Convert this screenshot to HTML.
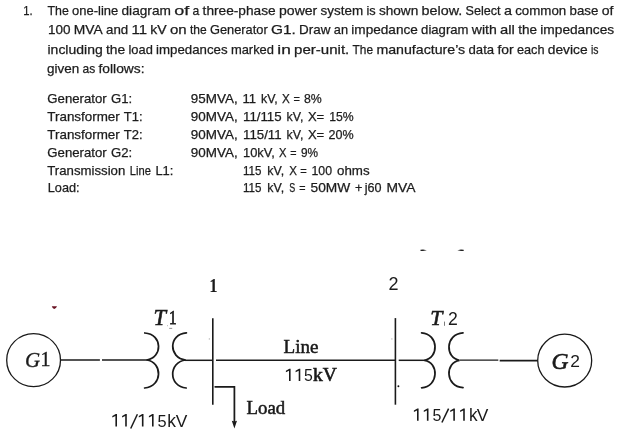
<!DOCTYPE html>
<html><head><meta charset="utf-8"><title>Problem 1</title>
<style>
html,body{margin:0;padding:0;background:#fff;}
body{width:618px;height:433px;overflow:hidden;font-family:"Liberation Sans",sans-serif;}
svg{display:block;will-change:transform;}
</style></head><body>
<svg width="618" height="433" viewBox="0 0 618 433">
<rect width="618" height="433" fill="#ffffff"/>
<text x="23.2" y="14.6" font-family='"Liberation Sans", sans-serif' font-size="12.9" font-weight="normal" font-style="normal" fill="#1c1c1c" stroke="#1c1c1c" stroke-width="0.25" textLength="9.4" lengthAdjust="spacingAndGlyphs">1.</text>
<text x="47.5" y="14.6" font-family='"Liberation Sans", sans-serif' font-size="12.9" font-weight="normal" font-style="normal" fill="#1c1c1c" stroke="#1c1c1c" stroke-width="0.25" textLength="21.3" lengthAdjust="spacingAndGlyphs">The</text>
<text x="72.1" y="14.6" font-family='"Liberation Sans", sans-serif' font-size="12.9" font-weight="normal" font-style="normal" fill="#1c1c1c" stroke="#1c1c1c" stroke-width="0.25" textLength="46.1" lengthAdjust="spacingAndGlyphs">one-line</text>
<text x="121.5" y="14.6" font-family='"Liberation Sans", sans-serif' font-size="12.9" font-weight="normal" font-style="normal" fill="#1c1c1c" stroke="#1c1c1c" stroke-width="0.25" textLength="49.4" lengthAdjust="spacingAndGlyphs">diagram</text>
<text x="174.2" y="14.6" font-family='"Liberation Sans", sans-serif' font-size="12.9" font-weight="normal" font-style="normal" fill="#1c1c1c" stroke="#1c1c1c" stroke-width="0.25" textLength="15.0" lengthAdjust="spacingAndGlyphs">of</text>
<text x="192.5" y="14.6" font-family='"Liberation Sans", sans-serif' font-size="12.9" font-weight="normal" font-style="normal" fill="#1c1c1c" stroke="#1c1c1c" stroke-width="0.25" textLength="6.8" lengthAdjust="spacingAndGlyphs">a</text>
<text x="202.6" y="14.6" font-family='"Liberation Sans", sans-serif' font-size="12.9" font-weight="normal" font-style="normal" fill="#1c1c1c" stroke="#1c1c1c" stroke-width="0.25" textLength="73.1" lengthAdjust="spacingAndGlyphs">three-phase</text>
<text x="279" y="14.6" font-family='"Liberation Sans", sans-serif' font-size="12.9" font-weight="normal" font-style="normal" fill="#1c1c1c" stroke="#1c1c1c" stroke-width="0.25" textLength="38.3" lengthAdjust="spacingAndGlyphs">power</text>
<text x="320.6" y="14.6" font-family='"Liberation Sans", sans-serif' font-size="12.9" font-weight="normal" font-style="normal" fill="#1c1c1c" stroke="#1c1c1c" stroke-width="0.25" textLength="42.5" lengthAdjust="spacingAndGlyphs">system</text>
<text x="366.4" y="14.6" font-family='"Liberation Sans", sans-serif' font-size="12.9" font-weight="normal" font-style="normal" fill="#1c1c1c" stroke="#1c1c1c" stroke-width="0.25" textLength="9.2" lengthAdjust="spacingAndGlyphs">is</text>
<text x="378.9" y="14.6" font-family='"Liberation Sans", sans-serif' font-size="12.9" font-weight="normal" font-style="normal" fill="#1c1c1c" stroke="#1c1c1c" stroke-width="0.25" textLength="39.4" lengthAdjust="spacingAndGlyphs">shown</text>
<text x="421.6" y="14.6" font-family='"Liberation Sans", sans-serif' font-size="12.9" font-weight="normal" font-style="normal" fill="#1c1c1c" stroke="#1c1c1c" stroke-width="0.25" textLength="40.6" lengthAdjust="spacingAndGlyphs">below.</text>
<text x="465.5" y="14.6" font-family='"Liberation Sans", sans-serif' font-size="12.9" font-weight="normal" font-style="normal" fill="#1c1c1c" stroke="#1c1c1c" stroke-width="0.25" textLength="35.1" lengthAdjust="spacingAndGlyphs">Select</text>
<text x="503.9" y="14.6" font-family='"Liberation Sans", sans-serif' font-size="12.9" font-weight="normal" font-style="normal" fill="#1c1c1c" stroke="#1c1c1c" stroke-width="0.25" textLength="8.0" lengthAdjust="spacingAndGlyphs">a</text>
<text x="515.2" y="14.6" font-family='"Liberation Sans", sans-serif' font-size="12.9" font-weight="normal" font-style="normal" fill="#1c1c1c" stroke="#1c1c1c" stroke-width="0.25" textLength="51.1" lengthAdjust="spacingAndGlyphs">common</text>
<text x="569.6" y="14.6" font-family='"Liberation Sans", sans-serif' font-size="12.9" font-weight="normal" font-style="normal" fill="#1c1c1c" stroke="#1c1c1c" stroke-width="0.25" textLength="28.8" lengthAdjust="spacingAndGlyphs">base</text>
<text x="601.7" y="14.6" font-family='"Liberation Sans", sans-serif' font-size="12.9" font-weight="normal" font-style="normal" fill="#1c1c1c" stroke="#1c1c1c" stroke-width="0.25" textLength="11.7" lengthAdjust="spacingAndGlyphs">of</text>
<text x="48" y="34.2" font-family='"Liberation Sans", sans-serif' font-size="12.9" font-weight="normal" font-style="normal" fill="#1c1c1c" stroke="#1c1c1c" stroke-width="0.25" textLength="22.5" lengthAdjust="spacingAndGlyphs">100</text>
<text x="73.8" y="34.2" font-family='"Liberation Sans", sans-serif' font-size="12.9" font-weight="normal" font-style="normal" fill="#1c1c1c" stroke="#1c1c1c" stroke-width="0.25" textLength="28.9" lengthAdjust="spacingAndGlyphs">MVA</text>
<text x="106" y="34.2" font-family='"Liberation Sans", sans-serif' font-size="12.9" font-weight="normal" font-style="normal" fill="#1c1c1c" stroke="#1c1c1c" stroke-width="0.25" textLength="22.2" lengthAdjust="spacingAndGlyphs">and</text>
<text x="131.5" y="34.2" font-family='"Liberation Sans", sans-serif' font-size="12.9" font-weight="normal" font-style="normal" fill="#1c1c1c" stroke="#1c1c1c" stroke-width="0.25" textLength="15.5" lengthAdjust="spacingAndGlyphs">11</text>
<text x="150.3" y="34.2" font-family='"Liberation Sans", sans-serif' font-size="12.9" font-weight="normal" font-style="normal" fill="#1c1c1c" stroke="#1c1c1c" stroke-width="0.25" textLength="16.4" lengthAdjust="spacingAndGlyphs">kV</text>
<text x="170" y="34.2" font-family='"Liberation Sans", sans-serif' font-size="12.9" font-weight="normal" font-style="normal" fill="#1c1c1c" stroke="#1c1c1c" stroke-width="0.25" textLength="16.7" lengthAdjust="spacingAndGlyphs">on</text>
<text x="190" y="34.2" font-family='"Liberation Sans", sans-serif' font-size="12.9" font-weight="normal" font-style="normal" fill="#1c1c1c" stroke="#1c1c1c" stroke-width="0.25" textLength="16.7" lengthAdjust="spacingAndGlyphs">the</text>
<text x="210" y="34.2" font-family='"Liberation Sans", sans-serif' font-size="12.9" font-weight="normal" font-style="normal" fill="#1c1c1c" stroke="#1c1c1c" stroke-width="0.25" textLength="57.7" lengthAdjust="spacingAndGlyphs">Generator</text>
<text x="271" y="34.2" font-family='"Liberation Sans", sans-serif' font-size="12.9" font-weight="normal" font-style="normal" fill="#1c1c1c" stroke="#1c1c1c" stroke-width="0.25" textLength="24.8" lengthAdjust="spacingAndGlyphs">G1.</text>
<text x="299.1" y="34.2" font-family='"Liberation Sans", sans-serif' font-size="12.9" font-weight="normal" font-style="normal" fill="#1c1c1c" stroke="#1c1c1c" stroke-width="0.25" textLength="31.4" lengthAdjust="spacingAndGlyphs">Draw</text>
<text x="333.8" y="34.2" font-family='"Liberation Sans", sans-serif' font-size="12.9" font-weight="normal" font-style="normal" fill="#1c1c1c" stroke="#1c1c1c" stroke-width="0.25" textLength="14.2" lengthAdjust="spacingAndGlyphs">an</text>
<text x="351.3" y="34.2" font-family='"Liberation Sans", sans-serif' font-size="12.9" font-weight="normal" font-style="normal" fill="#1c1c1c" stroke="#1c1c1c" stroke-width="0.25" textLength="66.5" lengthAdjust="spacingAndGlyphs">impedance</text>
<text x="421.1" y="34.2" font-family='"Liberation Sans", sans-serif' font-size="12.9" font-weight="normal" font-style="normal" fill="#1c1c1c" stroke="#1c1c1c" stroke-width="0.25" textLength="47.4" lengthAdjust="spacingAndGlyphs">diagram</text>
<text x="471.8" y="34.2" font-family='"Liberation Sans", sans-serif' font-size="12.9" font-weight="normal" font-style="normal" fill="#1c1c1c" stroke="#1c1c1c" stroke-width="0.25" textLength="25.0" lengthAdjust="spacingAndGlyphs">with</text>
<text x="500.1" y="34.2" font-family='"Liberation Sans", sans-serif' font-size="12.9" font-weight="normal" font-style="normal" fill="#1c1c1c" stroke="#1c1c1c" stroke-width="0.25" textLength="14.8" lengthAdjust="spacingAndGlyphs">all</text>
<text x="518.2" y="34.2" font-family='"Liberation Sans", sans-serif' font-size="12.9" font-weight="normal" font-style="normal" fill="#1c1c1c" stroke="#1c1c1c" stroke-width="0.25" textLength="18.8" lengthAdjust="spacingAndGlyphs">the</text>
<text x="540.3" y="34.2" font-family='"Liberation Sans", sans-serif' font-size="12.9" font-weight="normal" font-style="normal" fill="#1c1c1c" stroke="#1c1c1c" stroke-width="0.25" textLength="73.9" lengthAdjust="spacingAndGlyphs">impedances</text>
<text x="47.5" y="53.6" font-family='"Liberation Sans", sans-serif' font-size="12.9" font-weight="normal" font-style="normal" fill="#1c1c1c" stroke="#1c1c1c" stroke-width="0.25" textLength="55.2" lengthAdjust="spacingAndGlyphs">including</text>
<text x="106" y="53.6" font-family='"Liberation Sans", sans-serif' font-size="12.9" font-weight="normal" font-style="normal" fill="#1c1c1c" stroke="#1c1c1c" stroke-width="0.25" textLength="19.2" lengthAdjust="spacingAndGlyphs">the</text>
<text x="128.5" y="53.6" font-family='"Liberation Sans", sans-serif' font-size="12.9" font-weight="normal" font-style="normal" fill="#1c1c1c" stroke="#1c1c1c" stroke-width="0.25" textLength="24.3" lengthAdjust="spacingAndGlyphs">load</text>
<text x="156.1" y="53.6" font-family='"Liberation Sans", sans-serif' font-size="12.9" font-weight="normal" font-style="normal" fill="#1c1c1c" stroke="#1c1c1c" stroke-width="0.25" textLength="71.5" lengthAdjust="spacingAndGlyphs">impedances</text>
<text x="230.9" y="53.6" font-family='"Liberation Sans", sans-serif' font-size="12.9" font-weight="normal" font-style="normal" fill="#1c1c1c" stroke="#1c1c1c" stroke-width="0.25" textLength="43.1" lengthAdjust="spacingAndGlyphs">marked</text>
<text x="277.3" y="53.6" font-family='"Liberation Sans", sans-serif' font-size="12.9" font-weight="normal" font-style="normal" fill="#1c1c1c" stroke="#1c1c1c" stroke-width="0.25" textLength="13.5" lengthAdjust="spacingAndGlyphs">in</text>
<text x="294.1" y="53.6" font-family='"Liberation Sans", sans-serif' font-size="12.9" font-weight="normal" font-style="normal" fill="#1c1c1c" stroke="#1c1c1c" stroke-width="0.25" textLength="55.2" lengthAdjust="spacingAndGlyphs">per-unit.</text>
<text x="352.6" y="53.6" font-family='"Liberation Sans", sans-serif' font-size="12.9" font-weight="normal" font-style="normal" fill="#1c1c1c" stroke="#1c1c1c" stroke-width="0.25" textLength="20.5" lengthAdjust="spacingAndGlyphs">The</text>
<text x="376.4" y="53.6" font-family='"Liberation Sans", sans-serif' font-size="12.9" font-weight="normal" font-style="normal" fill="#1c1c1c" stroke="#1c1c1c" stroke-width="0.25" textLength="88.8" lengthAdjust="spacingAndGlyphs">manufacture’s</text>
<text x="468.5" y="53.6" font-family='"Liberation Sans", sans-serif' font-size="12.9" font-weight="normal" font-style="normal" fill="#1c1c1c" stroke="#1c1c1c" stroke-width="0.25" textLength="25.6" lengthAdjust="spacingAndGlyphs">data</text>
<text x="497.4" y="53.6" font-family='"Liberation Sans", sans-serif' font-size="12.9" font-weight="normal" font-style="normal" fill="#1c1c1c" stroke="#1c1c1c" stroke-width="0.25" textLength="16.2" lengthAdjust="spacingAndGlyphs">for</text>
<text x="516.9" y="53.6" font-family='"Liberation Sans", sans-serif' font-size="12.9" font-weight="normal" font-style="normal" fill="#1c1c1c" stroke="#1c1c1c" stroke-width="0.25" textLength="27.6" lengthAdjust="spacingAndGlyphs">each</text>
<text x="547.8" y="53.6" font-family='"Liberation Sans", sans-serif' font-size="12.9" font-weight="normal" font-style="normal" fill="#1c1c1c" stroke="#1c1c1c" stroke-width="0.25" textLength="39.8" lengthAdjust="spacingAndGlyphs">device</text>
<text x="590.9" y="53.6" font-family='"Liberation Sans", sans-serif' font-size="12.9" font-weight="normal" font-style="normal" fill="#1c1c1c" stroke="#1c1c1c" stroke-width="0.25" textLength="7.5" lengthAdjust="spacingAndGlyphs">is</text>
<text x="47.0" y="72.8" font-family='"Liberation Sans", sans-serif' font-size="12.9" font-weight="normal" font-style="normal" fill="#1c1c1c" stroke="#1c1c1c" stroke-width="0.25" textLength="32.2" lengthAdjust="spacingAndGlyphs">given</text>
<text x="82.5" y="72.8" font-family='"Liberation Sans", sans-serif' font-size="12.9" font-weight="normal" font-style="normal" fill="#1c1c1c" stroke="#1c1c1c" stroke-width="0.25" textLength="12.7" lengthAdjust="spacingAndGlyphs">as</text>
<text x="98.5" y="72.8" font-family='"Liberation Sans", sans-serif' font-size="12.9" font-weight="normal" font-style="normal" fill="#1c1c1c" stroke="#1c1c1c" stroke-width="0.25" textLength="46.0" lengthAdjust="spacingAndGlyphs">follows:</text>
<text x="47.3" y="102.5" font-family='"Liberation Sans", sans-serif' font-size="12.7" font-weight="normal" font-style="normal" fill="#1c1c1c" stroke="#1c1c1c" stroke-width="0.25" textLength="59.4" lengthAdjust="spacingAndGlyphs">Generator</text>
<text x="111" y="102.5" font-family='"Liberation Sans", sans-serif' font-size="12.7" font-weight="normal" font-style="normal" fill="#1c1c1c" stroke="#1c1c1c" stroke-width="0.25" textLength="21.2" lengthAdjust="spacingAndGlyphs">G1:</text>
<text x="190.8" y="102.5" font-family='"Liberation Sans", sans-serif' font-size="12.7" font-weight="normal" font-style="normal" fill="#1c1c1c" stroke="#1c1c1c" stroke-width="0.25" textLength="46.9" lengthAdjust="spacingAndGlyphs">95MVA,</text>
<text x="242.4" y="102.5" font-family='"Liberation Sans", sans-serif' font-size="12.7" font-weight="normal" font-style="normal" fill="#1c1c1c" stroke="#1c1c1c" stroke-width="0.25" textLength="13.6" lengthAdjust="spacingAndGlyphs">11</text>
<text x="261" y="102.5" font-family='"Liberation Sans", sans-serif' font-size="12.7" font-weight="normal" font-style="normal" fill="#1c1c1c" stroke="#1c1c1c" stroke-width="0.25" textLength="16.8" lengthAdjust="spacingAndGlyphs">kV,</text>
<text x="282.0" y="102.5" font-family='"Liberation Sans", sans-serif' font-size="12.7" font-weight="normal" font-style="normal" fill="#1c1c1c" stroke="#1c1c1c" stroke-width="0.25" textLength="7.8" lengthAdjust="spacingAndGlyphs">X</text>
<text x="293.4" y="102.5" font-family='"Liberation Sans", sans-serif' font-size="12.7" font-weight="normal" font-style="normal" fill="#1c1c1c" stroke="#1c1c1c" stroke-width="0.25" textLength="6.4" lengthAdjust="spacingAndGlyphs">=</text>
<text x="304.0" y="102.5" font-family='"Liberation Sans", sans-serif' font-size="12.7" font-weight="normal" font-style="normal" fill="#1c1c1c" stroke="#1c1c1c" stroke-width="0.25" textLength="17.8" lengthAdjust="spacingAndGlyphs">8%</text>
<text x="47.3" y="120.6" font-family='"Liberation Sans", sans-serif' font-size="12.7" font-weight="normal" font-style="normal" fill="#1c1c1c" stroke="#1c1c1c" stroke-width="0.25" textLength="72.5" lengthAdjust="spacingAndGlyphs">Transformer</text>
<text x="123.8" y="120.6" font-family='"Liberation Sans", sans-serif' font-size="12.7" font-weight="normal" font-style="normal" fill="#1c1c1c" stroke="#1c1c1c" stroke-width="0.25" textLength="18.8" lengthAdjust="spacingAndGlyphs">T1:</text>
<text x="190.8" y="120.6" font-family='"Liberation Sans", sans-serif' font-size="12.7" font-weight="normal" font-style="normal" fill="#1c1c1c" stroke="#1c1c1c" stroke-width="0.25" textLength="46.9" lengthAdjust="spacingAndGlyphs">90MVA,</text>
<text x="243.0" y="120.6" font-family='"Liberation Sans", sans-serif' font-size="12.7" font-weight="normal" font-style="normal" fill="#1c1c1c" stroke="#1c1c1c" stroke-width="0.25" textLength="38.6" lengthAdjust="spacingAndGlyphs">11/115</text>
<text x="286.6" y="120.6" font-family='"Liberation Sans", sans-serif' font-size="12.7" font-weight="normal" font-style="normal" fill="#1c1c1c" stroke="#1c1c1c" stroke-width="0.25" textLength="16.8" lengthAdjust="spacingAndGlyphs">kV,</text>
<text x="307.9" y="120.6" font-family='"Liberation Sans", sans-serif' font-size="12.7" font-weight="normal" font-style="normal" fill="#1c1c1c" stroke="#1c1c1c" stroke-width="0.25" textLength="16.3" lengthAdjust="spacingAndGlyphs">X=</text>
<text x="329.2" y="120.6" font-family='"Liberation Sans", sans-serif' font-size="12.7" font-weight="normal" font-style="normal" fill="#1c1c1c" stroke="#1c1c1c" stroke-width="0.25" textLength="24.5" lengthAdjust="spacingAndGlyphs">15%</text>
<text x="47.3" y="138.5" font-family='"Liberation Sans", sans-serif' font-size="12.7" font-weight="normal" font-style="normal" fill="#1c1c1c" stroke="#1c1c1c" stroke-width="0.25" textLength="72.5" lengthAdjust="spacingAndGlyphs">Transformer</text>
<text x="123.8" y="138.5" font-family='"Liberation Sans", sans-serif' font-size="12.7" font-weight="normal" font-style="normal" fill="#1c1c1c" stroke="#1c1c1c" stroke-width="0.25" textLength="18.8" lengthAdjust="spacingAndGlyphs">T2:</text>
<text x="190.8" y="138.5" font-family='"Liberation Sans", sans-serif' font-size="12.7" font-weight="normal" font-style="normal" fill="#1c1c1c" stroke="#1c1c1c" stroke-width="0.25" textLength="46.9" lengthAdjust="spacingAndGlyphs">90MVA,</text>
<text x="243.0" y="138.5" font-family='"Liberation Sans", sans-serif' font-size="12.7" font-weight="normal" font-style="normal" fill="#1c1c1c" stroke="#1c1c1c" stroke-width="0.25" textLength="38.6" lengthAdjust="spacingAndGlyphs">115/11</text>
<text x="286.6" y="138.5" font-family='"Liberation Sans", sans-serif' font-size="12.7" font-weight="normal" font-style="normal" fill="#1c1c1c" stroke="#1c1c1c" stroke-width="0.25" textLength="16.8" lengthAdjust="spacingAndGlyphs">kV,</text>
<text x="307.9" y="138.5" font-family='"Liberation Sans", sans-serif' font-size="12.7" font-weight="normal" font-style="normal" fill="#1c1c1c" stroke="#1c1c1c" stroke-width="0.25" textLength="16.3" lengthAdjust="spacingAndGlyphs">X=</text>
<text x="328.6" y="138.5" font-family='"Liberation Sans", sans-serif' font-size="12.7" font-weight="normal" font-style="normal" fill="#1c1c1c" stroke="#1c1c1c" stroke-width="0.25" textLength="25.1" lengthAdjust="spacingAndGlyphs">20%</text>
<text x="47.3" y="156.5" font-family='"Liberation Sans", sans-serif' font-size="12.7" font-weight="normal" font-style="normal" fill="#1c1c1c" stroke="#1c1c1c" stroke-width="0.25" textLength="59.4" lengthAdjust="spacingAndGlyphs">Generator</text>
<text x="111" y="156.5" font-family='"Liberation Sans", sans-serif' font-size="12.7" font-weight="normal" font-style="normal" fill="#1c1c1c" stroke="#1c1c1c" stroke-width="0.25" textLength="21.2" lengthAdjust="spacingAndGlyphs">G2:</text>
<text x="190.8" y="156.5" font-family='"Liberation Sans", sans-serif' font-size="12.7" font-weight="normal" font-style="normal" fill="#1c1c1c" stroke="#1c1c1c" stroke-width="0.25" textLength="46.9" lengthAdjust="spacingAndGlyphs">90MVA,</text>
<text x="243.0" y="156.5" font-family='"Liberation Sans", sans-serif' font-size="12.7" font-weight="normal" font-style="normal" fill="#1c1c1c" stroke="#1c1c1c" stroke-width="0.25" textLength="31.8" lengthAdjust="spacingAndGlyphs">10kV,</text>
<text x="279.1" y="156.5" font-family='"Liberation Sans", sans-serif' font-size="12.7" font-weight="normal" font-style="normal" fill="#1c1c1c" stroke="#1c1c1c" stroke-width="0.25" textLength="7.5" lengthAdjust="spacingAndGlyphs">X</text>
<text x="290.3" y="156.5" font-family='"Liberation Sans", sans-serif' font-size="12.7" font-weight="normal" font-style="normal" fill="#1c1c1c" stroke="#1c1c1c" stroke-width="0.25" textLength="6.3" lengthAdjust="spacingAndGlyphs">=</text>
<text x="300.9" y="156.5" font-family='"Liberation Sans", sans-serif' font-size="12.7" font-weight="normal" font-style="normal" fill="#1c1c1c" stroke="#1c1c1c" stroke-width="0.25" textLength="17.1" lengthAdjust="spacingAndGlyphs">9%</text>
<text x="47.3" y="174.9" font-family='"Liberation Sans", sans-serif' font-size="12.7" font-weight="normal" font-style="normal" fill="#1c1c1c" stroke="#1c1c1c" stroke-width="0.25" textLength="78.0" lengthAdjust="spacingAndGlyphs">Transmission</text>
<text x="129.8" y="174.9" font-family='"Liberation Sans", sans-serif' font-size="12.7" font-weight="normal" font-style="normal" fill="#1c1c1c" stroke="#1c1c1c" stroke-width="0.25" textLength="21.1" lengthAdjust="spacingAndGlyphs">Line</text>
<text x="155.4" y="174.9" font-family='"Liberation Sans", sans-serif' font-size="12.7" font-weight="normal" font-style="normal" fill="#1c1c1c" stroke="#1c1c1c" stroke-width="0.25" textLength="18.0" lengthAdjust="spacingAndGlyphs">L1:</text>
<text x="243.0" y="174.9" font-family='"Liberation Sans", sans-serif' font-size="12.7" font-weight="normal" font-style="normal" fill="#1c1c1c" stroke="#1c1c1c" stroke-width="0.25" textLength="18.5" lengthAdjust="spacingAndGlyphs">115</text>
<text x="267.3" y="174.9" font-family='"Liberation Sans", sans-serif' font-size="12.7" font-weight="normal" font-style="normal" fill="#1c1c1c" stroke="#1c1c1c" stroke-width="0.25" textLength="16.8" lengthAdjust="spacingAndGlyphs">kV,</text>
<text x="289.3" y="174.9" font-family='"Liberation Sans", sans-serif' font-size="12.7" font-weight="normal" font-style="normal" fill="#1c1c1c" stroke="#1c1c1c" stroke-width="0.25" textLength="7.7" lengthAdjust="spacingAndGlyphs">X</text>
<text x="300.3" y="174.9" font-family='"Liberation Sans", sans-serif' font-size="12.7" font-weight="normal" font-style="normal" fill="#1c1c1c" stroke="#1c1c1c" stroke-width="0.25" textLength="6.5" lengthAdjust="spacingAndGlyphs">=</text>
<text x="311.5" y="174.9" font-family='"Liberation Sans", sans-serif' font-size="12.7" font-weight="normal" font-style="normal" fill="#1c1c1c" stroke="#1c1c1c" stroke-width="0.25" textLength="20.5" lengthAdjust="spacingAndGlyphs">100</text>
<text x="337.0" y="174.9" font-family='"Liberation Sans", sans-serif' font-size="12.7" font-weight="normal" font-style="normal" fill="#1c1c1c" stroke="#1c1c1c" stroke-width="0.25" textLength="32.6" lengthAdjust="spacingAndGlyphs">ohms</text>
<text x="47.8" y="192.0" font-family='"Liberation Sans", sans-serif' font-size="12.7" font-weight="normal" font-style="normal" fill="#1c1c1c" stroke="#1c1c1c" stroke-width="0.25" textLength="31.8" lengthAdjust="spacingAndGlyphs">Load:</text>
<text x="243.0" y="192.0" font-family='"Liberation Sans", sans-serif' font-size="12.7" font-weight="normal" font-style="normal" fill="#1c1c1c" stroke="#1c1c1c" stroke-width="0.25" textLength="18.5" lengthAdjust="spacingAndGlyphs">115</text>
<text x="267.3" y="192.0" font-family='"Liberation Sans", sans-serif' font-size="12.7" font-weight="normal" font-style="normal" fill="#1c1c1c" stroke="#1c1c1c" stroke-width="0.25" textLength="16.8" lengthAdjust="spacingAndGlyphs">kV,</text>
<text x="289.3" y="192.0" font-family='"Liberation Sans", sans-serif' font-size="12.7" font-weight="normal" font-style="normal" fill="#1c1c1c" stroke="#1c1c1c" stroke-width="0.25" textLength="6.0" lengthAdjust="spacingAndGlyphs">S</text>
<text x="299.3" y="192.0" font-family='"Liberation Sans", sans-serif' font-size="12.7" font-weight="normal" font-style="normal" fill="#1c1c1c" stroke="#1c1c1c" stroke-width="0.25" textLength="6.3" lengthAdjust="spacingAndGlyphs">=</text>
<text x="310.5" y="192.0" font-family='"Liberation Sans", sans-serif' font-size="12.7" font-weight="normal" font-style="normal" fill="#1c1c1c" stroke="#1c1c1c" stroke-width="0.25" textLength="39.7" lengthAdjust="spacingAndGlyphs">50MW</text>
<text x="354.9" y="192.0" font-family='"Liberation Sans", sans-serif' font-size="12.7" font-weight="normal" font-style="normal" fill="#1c1c1c" stroke="#1c1c1c" stroke-width="0.25" textLength="7.4" lengthAdjust="spacingAndGlyphs">+</text>
<text x="364.7" y="192.0" font-family='"Liberation Sans", sans-serif' font-size="12.7" font-weight="normal" font-style="normal" fill="#1c1c1c" stroke="#1c1c1c" stroke-width="0.25" textLength="16.8" lengthAdjust="spacingAndGlyphs">j60</text>
<text x="386.4" y="192.0" font-family='"Liberation Sans", sans-serif' font-size="12.7" font-weight="normal" font-style="normal" fill="#1c1c1c" stroke="#1c1c1c" stroke-width="0.25" textLength="29.0" lengthAdjust="spacingAndGlyphs">MVA</text>
<ellipse cx="33.6" cy="360.15" rx="26.9" ry="26.5" fill="none" stroke="#1a1a1a" stroke-width="1.3"/>
<ellipse cx="564.7" cy="360.6" rx="27.0" ry="26.4" fill="none" stroke="#1a1a1a" stroke-width="1.3"/>
<line x1="60.5" y1="359.9" x2="99.9" y2="359.9" stroke="#1a1a1a" stroke-width="1.5"/>
<line x1="102" y1="359.9" x2="147" y2="359.9" stroke="#1a1a1a" stroke-width="1.5"/>
<line x1="184.5" y1="360.3" x2="212" y2="360.3" stroke="#1a1a1a" stroke-width="1.5"/>
<line x1="216" y1="360.3" x2="395.4" y2="360.3" stroke="#1a1a1a" stroke-width="1.5"/>
<line x1="398.7" y1="360.3" x2="425" y2="360.3" stroke="#1a1a1a" stroke-width="1.5"/>
<line x1="460" y1="360.1" x2="498.3" y2="360.1" stroke="#1a1a1a" stroke-width="1.3"/>
<line x1="499.7" y1="360.7" x2="537.7" y2="360.7" stroke="#1a1a1a" stroke-width="1.7"/>
<line x1="212.8" y1="318.2" x2="212.8" y2="404.8" stroke="#1a1a1a" stroke-width="1.6"/>
<line x1="395.4" y1="318.1" x2="395.4" y2="404.7" stroke="#1a1a1a" stroke-width="1.6"/>
<path d="M144.8,333 C162.8,334 162.8,358 146.6,360 C162.8,362 162.8,386.5 144.6,388" stroke="#1a1a1a" stroke-width="1.75" fill="none" stroke-linecap="round"/>
<path d="M186.4,332.9 C168.3,334 168.3,358 185.7,360 C168.3,362 168.3,386.5 186.2,388" stroke="#1a1a1a" stroke-width="1.75" fill="none" stroke-linecap="round"/>
<path d="M421.6,332.8 C439,334 439,358.4 424.4,360.3 C439,362.2 439,386.5 421.6,387.8" stroke="#1a1a1a" stroke-width="1.75" fill="none" stroke-linecap="round"/>
<path d="M463,332.8 C444.9,334 444.9,358.4 459.6,360.3 C444.9,362.2 444.9,386.5 463,387.7" stroke="#1a1a1a" stroke-width="1.75" fill="none" stroke-linecap="round"/>
<path d="M215.2,386.8 L234.4,386.8 L234.4,422" stroke="#1a1a1a" stroke-width="1.75" fill="none" stroke-linecap="round"/>
<path d="M231.8,420.7 L234.4,421.6 L237,420.7 L234.4,428.4 Z" fill="#1a1a1a"/>
<text x="209.6" y="291.9" font-family='"Liberation Serif", serif' font-size="19.7" font-weight="bold" font-style="normal" fill="#1a1a1a" stroke="#1a1a1a" stroke-width="0.2" textLength="7.9" lengthAdjust="spacingAndGlyphs">1</text>
<text x="388.5" y="289.9" font-family='"Liberation Sans", sans-serif' font-size="18" font-weight="normal" font-style="normal" fill="#1a1a1a">2</text>
<text x="153.6" y="325.0" font-family='"Liberation Serif", serif' font-size="22.5" font-weight="normal" font-style="italic" fill="#1a1a1a" stroke="#1a1a1a" stroke-width="0.6">T</text>
<text x="168.9" y="323.8" font-family='"Liberation Serif", serif' font-size="19" font-weight="normal" font-style="normal" fill="#1a1a1a" stroke="#1a1a1a" stroke-width="0.75" textLength="7.6" lengthAdjust="spacingAndGlyphs">1</text>
<text x="430.2" y="324.7" font-family='"Liberation Serif", serif' font-size="21.8" font-weight="normal" font-style="italic" fill="#1a1a1a" stroke="#1a1a1a" stroke-width="0.6">T</text>
<text x="447.9" y="324.5" font-family='"Liberation Sans", sans-serif' font-size="17.6" font-weight="normal" font-style="normal" fill="#1a1a1a">2</text>
<text x="25" y="367.2" font-family='"Liberation Serif", serif' font-size="21" font-weight="normal" font-style="italic" fill="#1a1a1a" stroke="#1a1a1a" stroke-width="0.35">G</text>
<text x="40.5" y="366.4" font-family='"Liberation Serif", serif' font-size="20" font-weight="normal" font-style="normal" fill="#1a1a1a" stroke="#1a1a1a" stroke-width="0.35">1</text>
<text x="551.6" y="368.6" font-family='"Liberation Serif", serif' font-size="23.5" font-weight="normal" font-style="italic" fill="#1a1a1a" stroke="#1a1a1a" stroke-width="0.6">G</text>
<text x="570.3" y="366.8" font-family='"Liberation Sans", sans-serif' font-size="17.4" font-weight="normal" font-style="normal" fill="#1a1a1a">2</text>
<text x="283.6" y="352.7" font-family='"Liberation Serif", serif' font-size="18.3" font-weight="normal" font-style="normal" fill="#1a1a1a" stroke="#1a1a1a" stroke-width="0.5" textLength="34.9" lengthAdjust="spacingAndGlyphs">Line</text>
<text x="313.1" y="381.0" font-family='"Liberation Serif", serif' font-size="18.2" font-weight="normal" font-style="normal" fill="#1a1a1a" stroke="#1a1a1a" stroke-width="0.6" textLength="23.9" lengthAdjust="spacingAndGlyphs">kV</text>
<text x="246.6" y="414.0" font-family='"Liberation Serif", serif' font-size="18.4" font-weight="normal" font-style="normal" fill="#1a1a1a" stroke="#1a1a1a" stroke-width="0.5" textLength="38.7" lengthAdjust="spacingAndGlyphs">Load</text>
<path d="M117.00,414.1 L117.00,426.5 L115.40,426.5 L115.40,416.00 L112.30,417.60 L112.30,416.10 L115.75,414.1 Z" fill="#1a1a1a"/>
<path d="M126.80,414.1 L126.80,426.5 L125.20,426.5 L125.20,416.00 L122.10,417.60 L122.10,416.10 L125.55,414.1 Z" fill="#1a1a1a"/>
<path d="M143.50,414.1 L143.50,426.5 L141.90,426.5 L141.90,416.00 L138.80,417.60 L138.80,416.10 L142.25,414.1 Z" fill="#1a1a1a"/>
<path d="M153.60,414.1 L153.60,426.5 L152.00,426.5 L152.00,416.00 L148.90,417.60 L148.90,416.10 L152.35,414.1 Z" fill="#1a1a1a"/>
<line x1="130.7" y1="428.5" x2="137.4" y2="414.2" stroke="#1a1a1a" stroke-width="1.5"/>
<text x="157.5" y="426.6" font-family='"Liberation Sans", sans-serif' font-size="17.4" font-weight="normal" font-style="normal" fill="#1a1a1a" textLength="9.1" lengthAdjust="spacingAndGlyphs">5</text>
<text x="167.2" y="426.5" font-family='"Liberation Sans", sans-serif' font-size="17.6" font-weight="normal" font-style="normal" fill="#1a1a1a" textLength="8.7" lengthAdjust="spacingAndGlyphs">k</text>
<text x="175.7" y="426.5" font-family='"Liberation Sans", sans-serif' font-size="17.4" font-weight="normal" font-style="normal" fill="#1a1a1a" textLength="11.6" lengthAdjust="spacingAndGlyphs">V</text>
<path d="M418.60,408.5 L418.60,420.8 L417.00,420.8 L417.00,410.40 L413.90,412.00 L413.90,410.50 L417.35,408.5 Z" fill="#1a1a1a"/>
<path d="M428.50,408.5 L428.50,420.8 L426.90,420.8 L426.90,410.40 L423.80,412.00 L423.80,410.50 L427.25,408.5 Z" fill="#1a1a1a"/>
<path d="M454.90,408.5 L454.90,420.8 L453.30,420.8 L453.30,410.40 L450.20,412.00 L450.20,410.50 L453.65,408.5 Z" fill="#1a1a1a"/>
<path d="M464.80,408.5 L464.80,420.8 L463.20,420.8 L463.20,410.40 L460.10,412.00 L460.10,410.50 L463.55,408.5 Z" fill="#1a1a1a"/>
<text x="432.4" y="420.9" font-family='"Liberation Sans", sans-serif' font-size="17.2" font-weight="normal" font-style="normal" fill="#1a1a1a" textLength="8.9" lengthAdjust="spacingAndGlyphs">5</text>
<line x1="441.9" y1="422.5" x2="448.6" y2="408.6" stroke="#1a1a1a" stroke-width="1.5"/>
<text x="469.1" y="420.8" font-family='"Liberation Sans", sans-serif' font-size="17.6" font-weight="normal" font-style="normal" fill="#1a1a1a" textLength="8.6" lengthAdjust="spacingAndGlyphs">k</text>
<text x="476.7" y="420.8" font-family='"Liberation Sans", sans-serif' font-size="17.4" font-weight="normal" font-style="normal" fill="#1a1a1a" textLength="11.6" lengthAdjust="spacingAndGlyphs">V</text>
<path d="M290.60,368.8 L290.60,380.9 L289.00,380.9 L289.00,370.70 L285.90,372.30 L285.90,370.80 L289.35,368.8 Z" fill="#1a1a1a"/>
<path d="M300.30,368.8 L300.30,380.9 L298.70,380.9 L298.70,370.70 L295.60,372.30 L295.60,370.80 L299.05,368.8 Z" fill="#1a1a1a"/>
<text x="304.1" y="381.0" font-family='"Liberation Sans", sans-serif' font-size="16.9" font-weight="normal" font-style="normal" fill="#1a1a1a" textLength="8.8" lengthAdjust="spacingAndGlyphs">5</text>
<path d="M420.5,249.7 L423,249.6 L426.8,250.2 L423,250.9 L420.5,250.9 Z" fill="#222"/>
<path d="M457.4,250.2 L461,249.6 L463.7,249.7 L463.7,250.9 L461,250.9 Z" fill="#222"/>
<path d="M51.8,306.3 L57,306.3 Q56,309 54.2,309 Q52.6,309 51.8,306.3 Z" fill="#6a1424"/>
<circle cx="398.4" cy="386.3" r="0.95" fill="#111"/>
<circle cx="391.9" cy="338.9" r="0.55" fill="#999"/>
<circle cx="209.3" cy="338.9" r="0.55" fill="#999"/>
<rect x="444.1" y="321.6" width="0.7" height="4.2" fill="#444"/>
<rect x="169.2" y="327.9" width="3" height="0.8" fill="#777"/>
<rect x="167" y="325.2" width="0.6" height="1" fill="#888"/>
</svg>
</body></html>
